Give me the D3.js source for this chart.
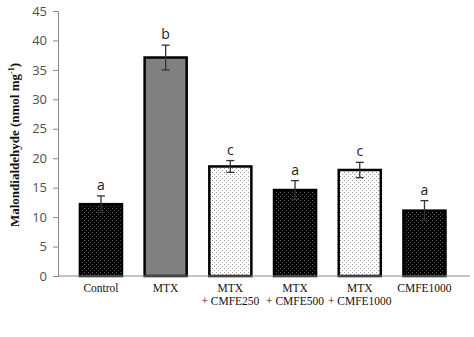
<!DOCTYPE html>
<html><head><meta charset="utf-8">
<script src="https://cdn.jsdelivr.net/npm/d3@7"></script>
<style>body{margin:0;background:#fff}svg{display:block}</style>
</head><body>
<script>
const categories = [["Control"],["MTX"],["MTX","+ CMFE250"],["MTX","+ CMFE500"],["MTX","+ CMFE1000"],["CMFE1000"]];
const values = [12.2, 37.1, 18.6, 14.6, 18.0, 11.1];
const errors = [1.4, 2.1, 1.0, 1.6, 1.3, 1.7];
const letters = ["a","b","c","a","c","a"];
const fills = ["dark","grey","light","dark","light","dark"];
const yTicks = [0,5,10,15,20,25,30,35,40,45];

const W=474,H=337;
const svg=d3.select("body").append("svg").attr("width",W).attr("height",H);
const defs=svg.append("defs");
const pd=defs.append("pattern").attr("id","dark").attr("patternUnits","userSpaceOnUse").attr("width",4).attr("height",4);
pd.append("rect").attr("width",4).attr("height",4).attr("fill","#000");
pd.append("rect").attr("x",0).attr("y",0).attr("width",1).attr("height",1).attr("fill","#666");
pd.append("rect").attr("x",2).attr("y",2).attr("width",1).attr("height",1).attr("fill","#666");
const pl=defs.append("pattern").attr("id","light").attr("patternUnits","userSpaceOnUse").attr("width",4).attr("height",4);
pl.append("rect").attr("width",4).attr("height",4).attr("fill","#fff");
pl.append("rect").attr("x",0).attr("y",0).attr("width",1).attr("height",1).attr("fill","#999");
pl.append("rect").attr("x",2).attr("y",2).attr("width",1).attr("height",1).attr("fill","#999");

const x=d3.scaleBand().domain(d3.range(categories.length)).range([68.6,456.8]).paddingInner(0.35).paddingOuter(0.175);
const y=d3.scaleLinear().domain([0,45]).range([276,11]);
const x0=58;

// y axis
const ya=svg.append("g").attr("transform",`translate(${x0},0)`).call(d3.axisLeft(y).tickValues(yTicks).tickSize(5).tickPadding(6));
ya.select(".domain").attr("stroke","#888");
ya.selectAll(".tick line").attr("stroke","#888");
ya.selectAll(".tick text").attr("font-family","'Open Sans','Noto Sans',sans-serif").attr("font-size",13).attr("fill","#505050");

// bars
const fillOf=f=>f==="grey"?"#808080":`url(#${f})`;
svg.append("g").selectAll("rect").data(values).join("rect")
 .attr("x",(d,i)=>x(i)).attr("width",x.bandwidth())
 .attr("y",d=>y(d)).attr("height",d=>y(0)-y(d))
 .attr("fill",(d,i)=>fillOf(fills[i])).attr("stroke","#000").attr("stroke-width",2.5);

// x axis line
svg.append("line").attr("x1",x0).attr("x2",470).attr("y1",y(0)).attr("y2",y(0)).attr("stroke","#888").attr("stroke-width",1.2);

// error bars
const eg=svg.append("g").attr("stroke","#333").attr("stroke-width",1.3);
values.forEach((v,i)=>{
  const cx=x(i)+x.bandwidth()/2;
  eg.append("line").attr("x1",cx).attr("x2",cx).attr("y1",y(v-errors[i])).attr("y2",y(v+errors[i]));
  eg.append("line").attr("x1",cx-4).attr("x2",cx+4).attr("y1",y(v+errors[i])).attr("y2",y(v+errors[i]));
  eg.append("line").attr("x1",cx-4).attr("x2",cx+4).attr("y1",y(v-errors[i])).attr("y2",y(v-errors[i]));
});

// letters
svg.append("g").selectAll("text").data(letters).join("text")
 .attr("x",(d,i)=>x(i)+x.bandwidth()/2).attr("y",(d,i)=>y(values[i]+errors[i])-6)
 .attr("text-anchor","middle").attr("font-family","'Open Sans','Noto Sans',sans-serif").attr("font-size",14).attr("fill","#222").text(d=>d);

// x labels
const xl=svg.append("g");
categories.forEach((c,i)=>{
  const cx=x(i)+x.bandwidth()/2;
  c.forEach((t,j)=>{
    xl.append("text").attr("x",cx).attr("y",292+j*13).attr("text-anchor","middle")
      .attr("font-family","'Liberation Serif',serif").attr("font-size",11.5).attr("fill","#111").text(t);
  });
});

// y label
const yl=svg.append("text").attr("transform","translate(19,145) rotate(-90)").attr("text-anchor","middle")
 .attr("font-family","'Liberation Serif',serif").attr("font-weight","bold").attr("font-size",13).attr("fill","#111");
yl.append("tspan").text("Malondialdehyde (nmol mg");
yl.append("tspan").attr("font-size",8).attr("dy",-5).text("-1");
yl.append("tspan").attr("dy",5).text(")");
</script>
</body></html>
